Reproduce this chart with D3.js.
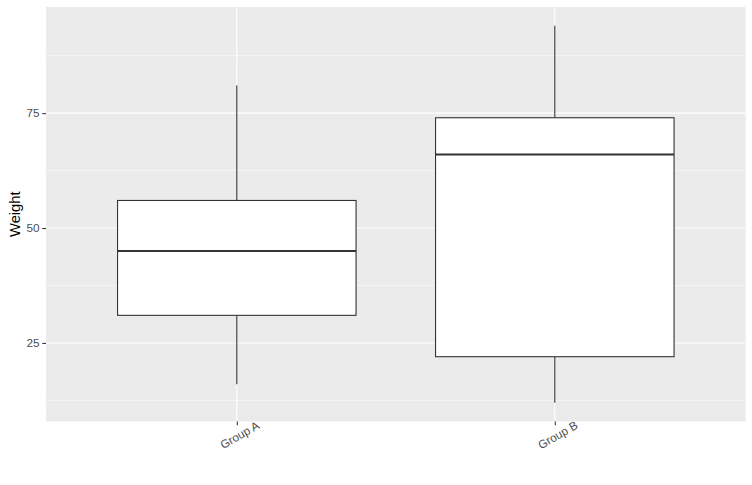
<!DOCTYPE html>
<html>
<head>
<meta charset="utf-8">
<script src="https://cdn.jsdelivr.net/npm/d3@7"></script>
<style>
  html, body { margin: 0; padding: 0; background: #fff; }
  svg { display: block; }
  text { font-family: "Liberation Sans", Arial, sans-serif; }
</style>
</head>
<body>
<svg id="chart" width="752" height="485"></svg>
<script>
// ---- data ----
const groups = ["Group A", "Group B"];
const whiskerLow = [16, 12];
const q1 = [31, 22];
const median = [45, 66];
const q3 = [56, 74];
const whiskerHigh = [81, 94];
const yMajorTicks = [25, 50, 75];
const yMinorTicks = [12.5, 37.5, 62.5, 87.5];
const yTitle = "Weight";

// ---- layout ----
const W = 752, H = 485;
const panel = { left: 46, right: 745.6, top: 7, bottom: 421.5 };

const svg = d3.select("#chart");

const dataMin = d3.min(whiskerLow), dataMax = d3.max(whiskerHigh);
const pad = (dataMax - dataMin) * 0.05;
const y = d3.scaleLinear()
  .domain([dataMin - pad, dataMax + pad])
  .range([panel.bottom, panel.top]);

const x = d3.scalePoint()
  .domain(groups)
  .range([panel.left, panel.right])
  .padding(0.6);
const boxW = x.step() * 0.75;

// panel background
svg.append("rect")
  .attr("x", panel.left).attr("y", panel.top)
  .attr("width", panel.right - panel.left)
  .attr("height", panel.bottom - panel.top)
  .attr("fill", "#EBEBEB");

// grid
const grid = svg.append("g");
grid.selectAll("line.minor").data(yMinorTicks).join("line")
  .attr("x1", panel.left).attr("x2", panel.right)
  .attr("y1", d => y(d)).attr("y2", d => y(d))
  .attr("stroke", "#fff").attr("stroke-width", 0.55);
grid.selectAll("line.major").data(yMajorTicks).join("line")
  .attr("x1", panel.left).attr("x2", panel.right)
  .attr("y1", d => y(d)).attr("y2", d => y(d))
  .attr("stroke", "#fff").attr("stroke-width", 1.07);
grid.selectAll("line.vmajor").data(groups).join("line")
  .attr("x1", d => x(d)).attr("x2", d => x(d))
  .attr("y1", panel.top).attr("y2", panel.bottom)
  .attr("stroke", "#fff").attr("stroke-width", 1.07);

// boxes
const rows = groups.map((g, i) => ({
  g, lo: whiskerLow[i], q1: q1[i], med: median[i], q3: q3[i], hi: whiskerHigh[i]
}));
const bx = svg.append("g");
rows.forEach(r => {
  const cx = x(r.g);
  bx.append("line")
    .attr("x1", cx).attr("x2", cx)
    .attr("y1", y(r.hi)).attr("y2", y(r.q3))
    .attr("stroke", "#333333").attr("stroke-width", 1.1);
  bx.append("line")
    .attr("x1", cx).attr("x2", cx)
    .attr("y1", y(r.q1)).attr("y2", y(r.lo))
    .attr("stroke", "#333333").attr("stroke-width", 1.1);
  bx.append("rect")
    .attr("x", cx - boxW / 2).attr("width", boxW)
    .attr("y", y(r.q3)).attr("height", y(r.q1) - y(r.q3))
    .attr("fill", "#fff").attr("stroke", "#333333").attr("stroke-width", 1.1);
  bx.append("line")
    .attr("x1", cx - boxW / 2).attr("x2", cx + boxW / 2)
    .attr("y1", y(r.med)).attr("y2", y(r.med))
    .attr("stroke", "#333333").attr("stroke-width", 2.2);
});

// y axis
const yAxis = svg.append("g")
  .attr("transform", `translate(${panel.left},0)`)
  .call(d3.axisLeft(y).tickValues(yMajorTicks).tickSize(3.7).tickPadding(2.9));
yAxis.select(".domain").remove();
yAxis.selectAll(".tick line").attr("stroke", "#333333").attr("stroke-width", 1.07);
yAxis.selectAll(".tick text")
  .attr("fill", "#4D4D4D")
  .style("font-size", "11.7px")
  .style("font-family", "'Liberation Sans', Arial, sans-serif");

// x axis
const xAxis = svg.append("g")
  .attr("transform", `translate(0,${panel.bottom})`)
  .call(d3.axisBottom(x).tickSize(3.7).tickFormat(() => ""));
xAxis.select(".domain").remove();
xAxis.selectAll(".tick line").attr("stroke", "#333333").attr("stroke-width", 1.07);

svg.append("g").selectAll("text").data(groups).join("text")
  .attr("transform", d => `translate(${x(d) + 5},${panel.bottom + 17}) rotate(-30)`)
  .attr("text-anchor", "middle")
  .attr("fill", "#4D4D4D")
  .style("font-size", "11.7px")
  .text(d => d);

// y title
svg.append("text")
  .attr("transform", `translate(19.5,${(panel.top + panel.bottom) / 2}) rotate(-90)`)
  .attr("text-anchor", "middle")
  .attr("fill", "#000")
  .style("font-size", "14.7px")
  .text(yTitle);
</script>
</body>
</html>
